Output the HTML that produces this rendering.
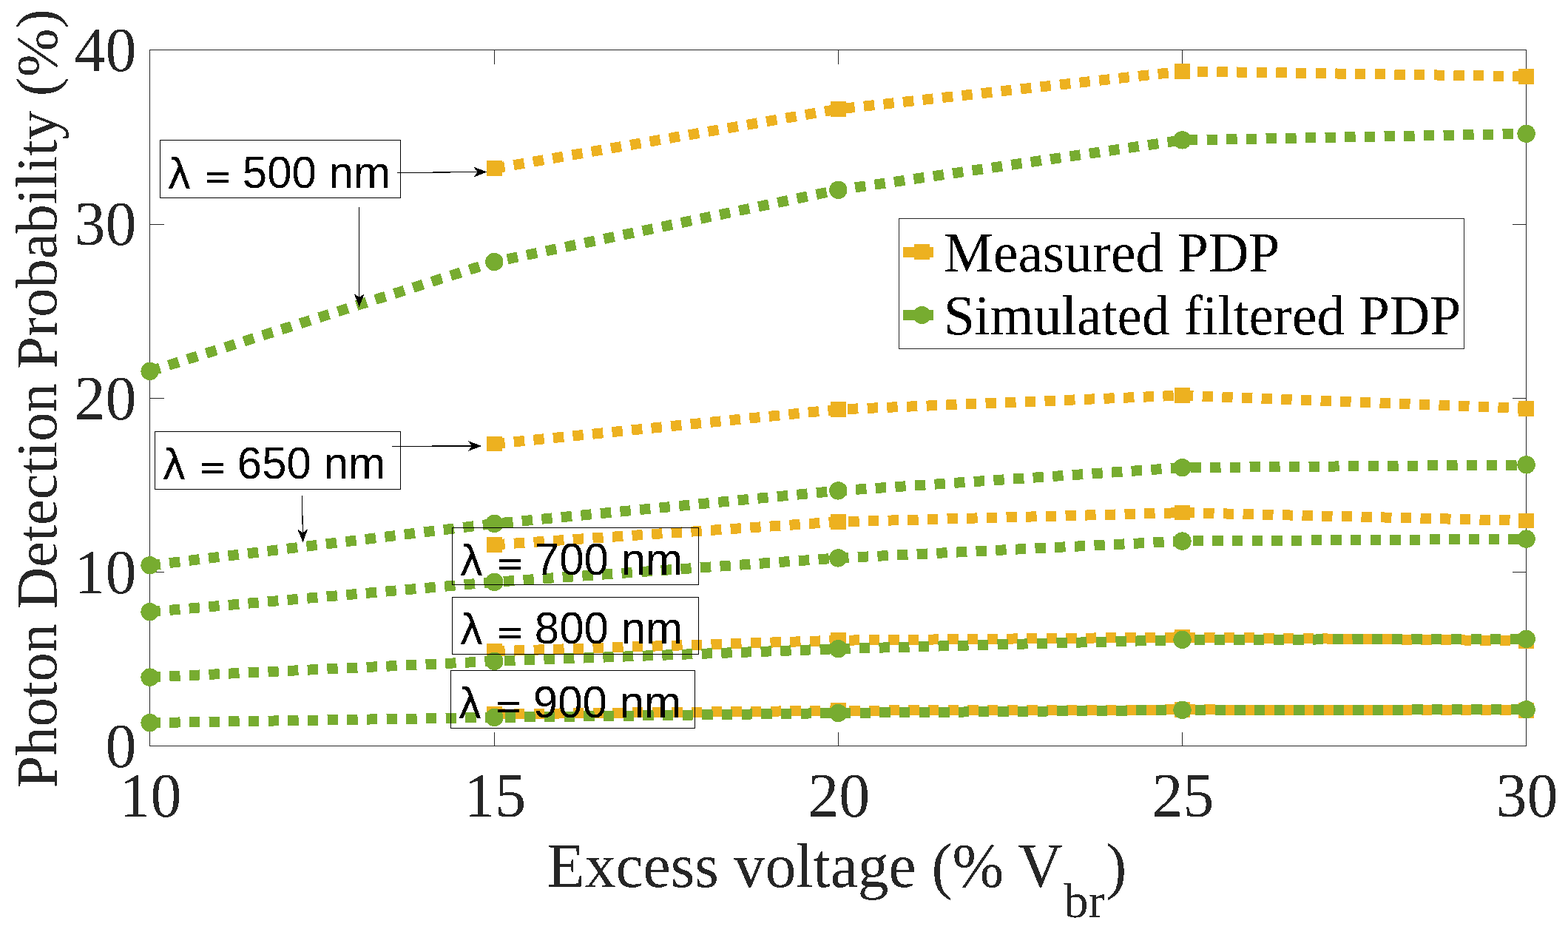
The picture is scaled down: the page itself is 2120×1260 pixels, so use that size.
<!DOCTYPE html><html><head><meta charset="utf-8"><style>html,body{margin:0;padding:0;background:#fff;overflow:hidden}svg{display:block}</style></head><body>
<svg width="2120" height="1260" viewBox="0 0 2120 1260">
<defs><filter id="bin" color-interpolation-filters="sRGB"><feComponentTransfer><feFuncA type="discrete" tableValues="0 1"/></feComponentTransfer></filter></defs>
<rect width="2120" height="1260" fill="#fff"/>
<g stroke="#262626" stroke-width="1" fill="none" shape-rendering="crispEdges">
<rect x="202.5" y="67.5" width="1861" height="941"/>
<path d="M668.5 1008.5V990M668.5 67.5V87"/>
<path d="M1133.5 1008.5V990M1133.5 67.5V87"/>
<path d="M1598.5 1008.5V990M1598.5 67.5V87"/>
<path d="M202.5 303.5H222M2063.5 303.5H2045"/>
<path d="M202.5 538.5H222M2063.5 538.5H2045"/>
<path d="M202.5 773.5H222M2063.5 773.5H2045"/>
</g>
<path d="M668.30 227.70 L1133.30 147.50 L1598.50 96.40 L2063.60 103.30" fill="none" stroke="#EDB120" stroke-width="14" stroke-dasharray="14.3 12.37" stroke-linejoin="miter" shape-rendering="crispEdges"/><rect x="657.95" y="217.35" width="20.7" height="20.7" fill="#EDB120" shape-rendering="crispEdges"/><rect x="1122.95" y="137.15" width="20.7" height="20.7" fill="#EDB120" shape-rendering="crispEdges"/><rect x="1588.15" y="86.05" width="20.7" height="20.7" fill="#EDB120" shape-rendering="crispEdges"/><rect x="2053.25" y="92.95" width="20.7" height="20.7" fill="#EDB120" shape-rendering="crispEdges"/>
<path d="M202.60 501.90 L668.30 354.00 L1133.30 256.80 L1598.50 189.40 L2063.60 180.70" fill="none" stroke="#77AC30" stroke-width="14" stroke-dasharray="14.3 12.37" stroke-linejoin="miter" shape-rendering="crispEdges"/><circle cx="202.60" cy="501.90" r="12.2" fill="#77AC30" shape-rendering="crispEdges"/><circle cx="668.30" cy="354.00" r="12.2" fill="#77AC30" shape-rendering="crispEdges"/><circle cx="1133.30" cy="256.80" r="12.2" fill="#77AC30" shape-rendering="crispEdges"/><circle cx="1598.50" cy="189.40" r="12.2" fill="#77AC30" shape-rendering="crispEdges"/><circle cx="2063.60" cy="180.70" r="12.2" fill="#77AC30" shape-rendering="crispEdges"/>
<path d="M668.30 600.00 L1133.30 553.50 L1598.50 534.50 L2063.60 552.40" fill="none" stroke="#EDB120" stroke-width="14" stroke-dasharray="14.3 12.37" stroke-linejoin="miter" shape-rendering="crispEdges"/><rect x="657.95" y="589.65" width="20.7" height="20.7" fill="#EDB120" shape-rendering="crispEdges"/><rect x="1122.95" y="543.15" width="20.7" height="20.7" fill="#EDB120" shape-rendering="crispEdges"/><rect x="1588.15" y="524.15" width="20.7" height="20.7" fill="#EDB120" shape-rendering="crispEdges"/><rect x="2053.25" y="542.05" width="20.7" height="20.7" fill="#EDB120" shape-rendering="crispEdges"/>
<path d="M202.60 764.30 L668.30 707.90 L1133.30 663.40 L1598.50 632.20 L2063.60 628.40" fill="none" stroke="#77AC30" stroke-width="14" stroke-dasharray="14.3 12.37" stroke-linejoin="miter" shape-rendering="crispEdges"/><circle cx="202.60" cy="764.30" r="12.2" fill="#77AC30" shape-rendering="crispEdges"/><circle cx="668.30" cy="707.90" r="12.2" fill="#77AC30" shape-rendering="crispEdges"/><circle cx="1133.30" cy="663.40" r="12.2" fill="#77AC30" shape-rendering="crispEdges"/><circle cx="1598.50" cy="632.20" r="12.2" fill="#77AC30" shape-rendering="crispEdges"/><circle cx="2063.60" cy="628.40" r="12.2" fill="#77AC30" shape-rendering="crispEdges"/>
<path d="M668.30 736.40 L1133.30 705.40 L1598.50 693.10 L2063.60 704.00" fill="none" stroke="#EDB120" stroke-width="14" stroke-dasharray="14.3 12.37" stroke-linejoin="miter" shape-rendering="crispEdges"/><rect x="657.95" y="726.05" width="20.7" height="20.7" fill="#EDB120" shape-rendering="crispEdges"/><rect x="1122.95" y="695.05" width="20.7" height="20.7" fill="#EDB120" shape-rendering="crispEdges"/><rect x="1588.15" y="682.75" width="20.7" height="20.7" fill="#EDB120" shape-rendering="crispEdges"/><rect x="2053.25" y="693.65" width="20.7" height="20.7" fill="#EDB120" shape-rendering="crispEdges"/>
<path d="M202.60 827.20 L668.30 786.90 L1133.30 754.40 L1598.50 731.60 L2063.60 728.60" fill="none" stroke="#77AC30" stroke-width="14" stroke-dasharray="14.3 12.37" stroke-linejoin="miter" shape-rendering="crispEdges"/><circle cx="202.60" cy="827.20" r="12.2" fill="#77AC30" shape-rendering="crispEdges"/><circle cx="668.30" cy="786.90" r="12.2" fill="#77AC30" shape-rendering="crispEdges"/><circle cx="1133.30" cy="754.40" r="12.2" fill="#77AC30" shape-rendering="crispEdges"/><circle cx="1598.50" cy="731.60" r="12.2" fill="#77AC30" shape-rendering="crispEdges"/><circle cx="2063.60" cy="728.60" r="12.2" fill="#77AC30" shape-rendering="crispEdges"/>
<path d="M668.30 880.40 L1133.30 865.70 L1598.50 861.40 L2063.60 866.40" fill="none" stroke="#EDB120" stroke-width="14" stroke-dasharray="14.3 12.37" stroke-linejoin="miter" shape-rendering="crispEdges"/><rect x="657.95" y="870.05" width="20.7" height="20.7" fill="#EDB120" shape-rendering="crispEdges"/><rect x="1122.95" y="855.35" width="20.7" height="20.7" fill="#EDB120" shape-rendering="crispEdges"/><rect x="1588.15" y="851.05" width="20.7" height="20.7" fill="#EDB120" shape-rendering="crispEdges"/><rect x="2053.25" y="856.05" width="20.7" height="20.7" fill="#EDB120" shape-rendering="crispEdges"/>
<path d="M202.60 915.60 L668.30 893.90 L1133.30 877.10 L1598.50 864.90 L2063.60 863.90" fill="none" stroke="#77AC30" stroke-width="14" stroke-dasharray="14.3 12.37" stroke-linejoin="miter" shape-rendering="crispEdges"/><circle cx="202.60" cy="915.60" r="12.2" fill="#77AC30" shape-rendering="crispEdges"/><circle cx="668.30" cy="893.90" r="12.2" fill="#77AC30" shape-rendering="crispEdges"/><circle cx="1133.30" cy="877.10" r="12.2" fill="#77AC30" shape-rendering="crispEdges"/><circle cx="1598.50" cy="864.90" r="12.2" fill="#77AC30" shape-rendering="crispEdges"/><circle cx="2063.60" cy="863.90" r="12.2" fill="#77AC30" shape-rendering="crispEdges"/>
<path d="M668.30 965.40 L1133.30 960.70 L1598.50 959.40 L2063.60 960.40" fill="none" stroke="#EDB120" stroke-width="14" stroke-dasharray="14.3 12.37" stroke-linejoin="miter" shape-rendering="crispEdges"/><rect x="657.95" y="955.05" width="20.7" height="20.7" fill="#EDB120" shape-rendering="crispEdges"/><rect x="1122.95" y="950.35" width="20.7" height="20.7" fill="#EDB120" shape-rendering="crispEdges"/><rect x="1588.15" y="949.05" width="20.7" height="20.7" fill="#EDB120" shape-rendering="crispEdges"/><rect x="2053.25" y="950.05" width="20.7" height="20.7" fill="#EDB120" shape-rendering="crispEdges"/>
<path d="M202.60 977.10 L668.30 969.90 L1133.30 964.00 L1598.50 959.90 L2063.60 959.30" fill="none" stroke="#77AC30" stroke-width="14" stroke-dasharray="14.3 12.37" stroke-linejoin="miter" shape-rendering="crispEdges"/><circle cx="202.60" cy="977.10" r="12.2" fill="#77AC30" shape-rendering="crispEdges"/><circle cx="668.30" cy="969.90" r="12.2" fill="#77AC30" shape-rendering="crispEdges"/><circle cx="1133.30" cy="964.00" r="12.2" fill="#77AC30" shape-rendering="crispEdges"/><circle cx="1598.50" cy="959.90" r="12.2" fill="#77AC30" shape-rendering="crispEdges"/><circle cx="2063.60" cy="959.30" r="12.2" fill="#77AC30" shape-rendering="crispEdges"/>
<g font-family="Liberation Serif, serif" font-size="84" fill="#262626" filter="url(#bin)">
<text x="203.6" y="1104.3" text-anchor="middle">10</text>
<text x="669.3" y="1104.3" text-anchor="middle">15</text>
<text x="1134.3" y="1104.3" text-anchor="middle">20</text>
<text x="1599.5" y="1104.3" text-anchor="middle">25</text>
<text x="2064.6" y="1104.3" text-anchor="middle">30</text>
<text x="184.5" y="1037.0" text-anchor="end">0</text>
<text x="184.5" y="801.8" text-anchor="end">10</text>
<text x="184.5" y="566.5" text-anchor="end">20</text>
<text x="184.5" y="331.2" text-anchor="end">30</text>
<text x="184.5" y="96.0" text-anchor="end">40</text>
</g>
<text filter="url(#bin)" x="739.6" y="1199" font-family="Liberation Serif, serif" font-size="83.6" fill="#262626">Excess voltage (% V<tspan x="1438.4" y="1239.5" font-size="66">br</tspan><tspan x="1495.5" y="1199">)</tspan></text>
<text filter="url(#bin)" transform="translate(76 1065.5) rotate(-90)" font-family="Liberation Serif, serif" font-size="78.5" fill="#262626">Photon Detection Probability (%)</text>
<rect x="1215.5" y="295.5" width="764" height="176" fill="#fff" stroke="#262626" stroke-width="1" shape-rendering="crispEdges"/>
<path d="M1221 341H1262" stroke="#EDB120" stroke-width="14" shape-rendering="crispEdges"/>
<rect x="1236" y="330.1" width="21" height="21" fill="#EDB120" shape-rendering="crispEdges"/>
<path d="M1221 426H1262" stroke="#77AC30" stroke-width="14" shape-rendering="crispEdges"/>
<circle cx="1246.5" cy="426" r="12" fill="#77AC30" shape-rendering="crispEdges"/>
<g font-family="Liberation Serif, serif" font-size="75.4" fill="#000" filter="url(#bin)">
<text x="1275.9" y="366.8">Measured PDP</text>
<text x="1275.9" y="452.1">Simulated filtered PDP</text>
</g>
<g fill="none" stroke="#000" stroke-width="1" shape-rendering="crispEdges">
<rect x="216.5" y="189.5" width="325.0" height="78.0"/>
<rect x="209.5" y="583.5" width="332.0" height="78.0"/>
<rect x="611.5" y="713.5" width="333.0" height="77.0"/>
<rect x="611.5" y="807.5" width="333.0" height="77.0"/>
<rect x="609.5" y="906.5" width="330.0" height="78.0"/>
</g>
<g font-family="Liberation Sans, sans-serif" font-size="60" fill="#000" filter="url(#bin)">
<text transform="matrix(1 0 0 1.025 0 -6.350)" y="254.00"><tspan x="226.10" y="255.07" font-family="DejaVu Sans, sans-serif" font-size="55.3">λ</tspan> <tspan x="275.30" y="254.88" font-family="DejaVu Sans, sans-serif" font-size="46.3">=</tspan> <tspan x="327.80" y="254.00">500 nm</tspan></text>
<text transform="matrix(1 0 0 1.025 0 -16.175)" y="647.00"><tspan x="219.10" y="648.07" font-family="DejaVu Sans, sans-serif" font-size="55.3">λ</tspan> <tspan x="268.30" y="647.88" font-family="DejaVu Sans, sans-serif" font-size="46.3">=</tspan> <tspan x="320.80" y="647.00">650 nm</tspan></text>
<text transform="matrix(1 0 0 1.025 0 -19.425)" y="777.00"><tspan x="621.10" y="778.07" font-family="DejaVu Sans, sans-serif" font-size="55.3">λ</tspan> <tspan x="670.30" y="777.88" font-family="DejaVu Sans, sans-serif" font-size="46.3">=</tspan> <tspan x="722.80" y="777.00">700 nm</tspan></text>
<text transform="matrix(1 0 0 1.025 0 -21.750)" y="870.00"><tspan x="621.10" y="871.07" font-family="DejaVu Sans, sans-serif" font-size="55.3">λ</tspan> <tspan x="670.30" y="870.88" font-family="DejaVu Sans, sans-serif" font-size="46.3">=</tspan> <tspan x="722.80" y="870.00">800 nm</tspan></text>
<text transform="matrix(1 0 0 1.025 0 -24.250)" y="970.00"><tspan x="619.10" y="971.07" font-family="DejaVu Sans, sans-serif" font-size="55.3">λ</tspan> <tspan x="668.30" y="970.88" font-family="DejaVu Sans, sans-serif" font-size="46.3">=</tspan> <tspan x="720.80" y="970.00">900 nm</tspan></text>
</g>
<path d="M537 233.5L645.50 232.61" stroke="#000" stroke-width="1.2" shape-rendering="crispEdges"/><path d="M658.5 232.5L640.56 239.65L645.50 232.61L640.44 225.65Z" fill="#000" shape-rendering="crispEdges"/>
<path d="M485.7 280L485.70 402.00" stroke="#000" stroke-width="1.2" shape-rendering="crispEdges"/><path d="M485.7 415L478.70 397.00L485.70 402.00L492.70 397.00Z" fill="#000" shape-rendering="crispEdges"/>
<path d="M530 603.2L638.00 603.02" stroke="#000" stroke-width="1.2" shape-rendering="crispEdges"/><path d="M651 603L633.01 610.03L638.00 603.02L632.99 596.03Z" fill="#000" shape-rendering="crispEdges"/>
<path d="M408.5 670L409.29 720.30" stroke="#000" stroke-width="1.2" shape-rendering="crispEdges"/><path d="M409.5 733.3L402.22 715.41L409.29 720.30L416.21 715.19Z" fill="#000" shape-rendering="crispEdges"/>
</svg></body></html>
